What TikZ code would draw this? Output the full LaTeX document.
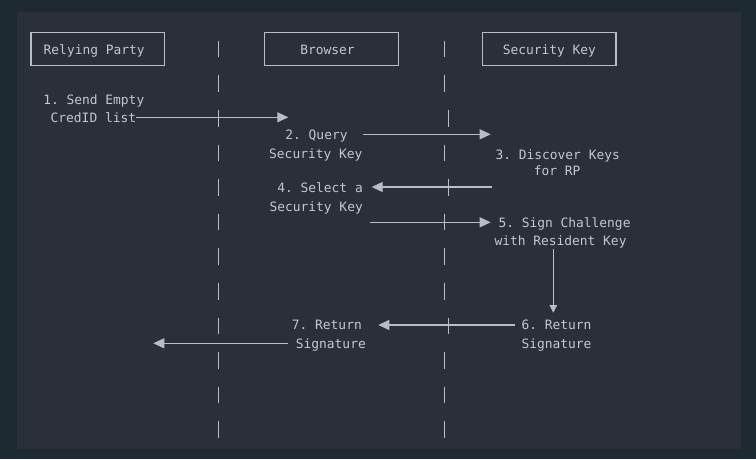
\documentclass[tikz,border=0pt]{standalone}
\usepackage{fontspec}
\setmonofont{DejaVu Sans Mono}
\usetikzlibrary{arrows.meta}
\definecolor{outerbg}{HTML}{1D2A31}
\definecolor{panelbg}{HTML}{2B2F3A}
\definecolor{inkc}{HTML}{C3C7CE}
\definecolor{linec}{HTML}{B9BDC5}
\tikzset{
  lbl/.style={text=inkc, inner sep=0pt, font=\ttfamily\fontsize{12.9}{15}\selectfont},
  actor/.style={draw=linec, line width=1.1pt},
  life/.style={draw=linec, line width=1.1pt},
  msg/.style={draw=linec, line width=1.1pt, -{Triangle[length=11pt,width=10pt]}, color=linec},
  smallmsg/.style={draw=linec, line width=1.1pt, -{Triangle[length=7.7pt,width=7.6pt]}, color=linec}
}
\begin{document}
\begin{tikzpicture}[x=1pt,y=-1pt]
\useasboundingbox (0,0) rectangle (756,459);
\fill[outerbg] (0,0) rectangle (756,459);
\fill[panelbg] (17,12) rectangle (741,449);
% actor boxes
\draw[actor] (31,32.3) rectangle (164.3,65.7);
\draw[actor] (264.7,32.3) rectangle (398.7,65.7);
\draw[actor] (482.7,32.3) rectangle (616,65.7);
\node[lbl, anchor=base] (rp) at (94.2,54.3) {Relying Party};
\node[lbl, anchor=base] (br) at (327.5,54.3) {Browser};
\node[lbl, anchor=base] (sk) at (549.4,54.3) {Security Key};
% lifelines
\foreach \k in {0,...,11} {
  \pgfmathsetmacro{\yc}{49+34.6*\k}
  \draw[life] (218.6,\yc-8.3) -- (218.6,\yc+8.3);
}
\foreach \k/\xx in {0/444.5,1/444.5,2/448.3,3/444.5,4/448.3,5/444.5,6/444.5,7/444.5,8/448.3,9/444.5,10/444.5,11/444.5} {
  \pgfmathsetmacro{\yc}{49+34.6*\k}
  \draw[life] (\xx,\yc-8.3) -- (\xx,\yc+8.3);
}
% labels
\node[lbl, anchor=base] (m1a) at (93.8,104.7) {1. Send Empty};
\node[lbl, anchor=base] (m1b) at (93.4,122) {CredID list};
\node[lbl, anchor=base] (m2a) at (316.5,139.7) {2. Query};
\node[lbl, anchor=base] (m2b) at (315.8,158.7) {Security Key};
\node[lbl, anchor=base] (m3a) at (557.7,159) {3. Discover Keys};
\node[lbl, anchor=base] (m3b) at (557.2,175.4) {for RP};
\node[lbl, anchor=base east] (m4a) at (363,192.4) {4. Select a};
\node[lbl, anchor=base east] (m4b) at (363,211.4) {Security Key};
\node[lbl, anchor=base west] (m5a) at (498.3,227) {5. Sign Challenge};
\node[lbl, anchor=base west] (m5b) at (494.3,245.4) {with Resident Key};
\node[lbl, anchor=base west] (m6a) at (521.3,329.7) {6. Return};
\node[lbl, anchor=base west] (m6b) at (521.3,348.7) {Signature};
\node[lbl, anchor=base west] (m7a) at (291.7,329.7) {7. Return};
\node[lbl, anchor=base west] (m7b) at (295.7,348.4) {Signature};
% arrow end points
\coordinate (a1s) at (136,117.3);   \coordinate (a1e) at (288.3,117.3);
\coordinate (a2s) at (362.7,134.3); \coordinate (a2e) at (490.7,134.3);
\coordinate (a4s) at (491.7,187);   \coordinate (a4e) at (371.7,187);
\coordinate (a5s) at (370,222.3);   \coordinate (a5e) at (490.7,222.3);
\coordinate (avs) at (553.3,249.3); \coordinate (ave) at (553.3,312.7);
\coordinate (a6s) at (515,325);     \coordinate (a6e) at (378.3,325);
\coordinate (a7s) at (288.3,343.3); \coordinate (a7e) at (153.3,343.3);
\draw[msg] (a1s) -- (a1e);
\draw[msg] (a2s) -- (a2e);
\draw[msg] (a4s) -- (a4e);
\draw[msg] (a5s) -- (a5e);
\draw[smallmsg] (avs) -- (ave);
\draw[msg] (a6s) -- (a6e);
\draw[msg] (a7s) -- (a7e);
\end{tikzpicture}
\end{document}
